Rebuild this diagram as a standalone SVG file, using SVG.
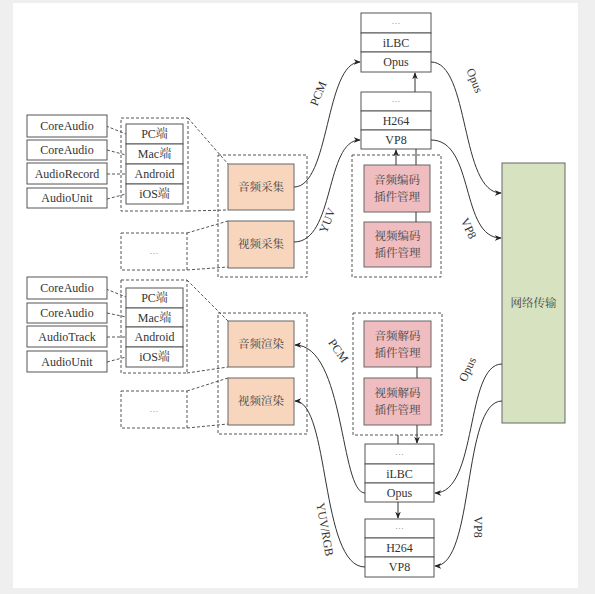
<svg xmlns="http://www.w3.org/2000/svg" width="595" height="594" viewBox="0 0 595 594">
<defs>
<marker id="ah" viewBox="0 0 10 10" refX="9" refY="5" markerWidth="7" markerHeight="7" markerUnits="userSpaceOnUse" orient="auto">
<path d="M0,1 L10,5 L0,9 L3,5 Z" fill="#222"/>
</marker>
<style>
.t{font-family:"Liberation Serif","Noto Serif CJK SC","Noto Sans CJK SC",serif;font-size:12px;fill:#333;text-anchor:middle}
.e{font-family:"Liberation Serif",serif;font-size:9px;fill:#777;text-anchor:middle}
.c{font-family:"Noto Serif CJK SC","Noto Sans CJK SC",serif;font-size:11.5px;fill:#444;text-anchor:middle}
.box{fill:#fff;stroke:#555;stroke-width:1}
.org{fill:#f8d6bd;stroke:#666;stroke-width:1}
.pink{fill:#efbcc0;stroke:#666;stroke-width:1}
.grn{fill:#d7e3c0;stroke:#666;stroke-width:1}
.dash{fill:none;stroke:#555;stroke-width:1;stroke-dasharray:3,2}
.ln{fill:none;stroke:#333;stroke-width:1}
.arr{fill:none;stroke:#333;stroke-width:1;marker-end:url(#ah)}
</style>
</defs>
<rect x="0" y="0" width="595" height="594" fill="#efefef"/>
<rect x="13" y="3" width="565" height="585" fill="#fff"/>

<!-- dashed groupings and dotted leader lines -->
<g id="groups">
<rect class="dash" x="121" y="118" width="67" height="93"/>
<rect class="dash" x="121" y="233" width="66" height="37"/>
<rect class="dash" x="218" y="155" width="89" height="122"/>
<rect class="dash" x="352" y="155" width="89" height="122"/>
<rect class="dash" x="121" y="280" width="66" height="93"/>
<rect class="dash" x="121" y="391" width="66" height="37"/>
<rect class="dash" x="218" y="313" width="89" height="121"/>
<rect class="dash" x="353" y="313" width="89" height="122"/>
<path class="dash" d="M106,126 L126,134 M107,150 L126,155 M107,174 L126,174 M107,199 L126,194"/>
<path class="dash" d="M106,289 L126,297 M107,313 L126,317 M107,337 L126,337 M107,362 L126,357"/>
<path class="dash" d="M188,118 L228,164 M188,211 L228,210 M187,233 L228,221 M187,270 L228,267"/>
<path class="dash" d="M187,280 L228,321 M187,373 L228,367 M187,391 L228,378 M187,428 L228,424"/>
<text class="e" x="154" y="254">…</text>
<text class="e" x="154" y="412">…</text>
</g>

<!-- capture devices -->
<g id="cap-devices">
<rect class="box" x="27" y="115" width="80" height="22"/><text class="t" x="67" y="130">CoreAudio</text>
<rect class="box" x="27" y="140" width="80" height="20"/><text class="t" x="67" y="154">CoreAudio</text>
<rect class="box" x="27" y="163" width="80" height="21"/><text class="t" x="67" y="178">AudioRecord</text>
<rect class="box" x="27" y="188" width="80" height="20"/><text class="t" x="67" y="202">AudioUnit</text>
</g>
<g id="cap-platforms">
<rect class="box" x="126" y="124" width="57" height="20"/><text class="t" x="154.5" y="138">PC端</text>
<rect class="box" x="126" y="144" width="57" height="20"/><text class="t" x="154.5" y="158">Mac端</text>
<rect class="box" x="126" y="164" width="57" height="20"/><text class="t" x="154.5" y="178">Android</text>
<rect class="box" x="126" y="184" width="57" height="20"/><text class="t" x="154.5" y="198">iOS端</text>
</g>

<!-- render devices -->
<g id="ren-devices">
<rect class="box" x="27" y="277" width="80" height="22"/><text class="t" x="67" y="292">CoreAudio</text>
<rect class="box" x="27" y="303" width="80" height="20"/><text class="t" x="67" y="317">CoreAudio</text>
<rect class="box" x="27" y="326" width="80" height="21"/><text class="t" x="67" y="341">AudioTrack</text>
<rect class="box" x="27" y="351" width="80" height="21"/><text class="t" x="67" y="366">AudioUnit</text>
</g>
<g id="ren-platforms">
<rect class="box" x="126" y="288" width="57" height="20"/><text class="t" x="154.5" y="302">PC端</text>
<rect class="box" x="126" y="308" width="57" height="19"/><text class="t" x="154.5" y="322">Mac端</text>
<rect class="box" x="126" y="327" width="57" height="20"/><text class="t" x="154.5" y="341">Android</text>
<rect class="box" x="126" y="347" width="57" height="20"/><text class="t" x="154.5" y="361">iOS端</text>
</g>

<g id="audio-capture"><rect class="org" x="228" y="164" width="66" height="46"/><text class="c" x="261" y="191">音频采集</text></g>
<g id="video-capture"><rect class="org" x="228" y="221" width="66" height="47"/><text class="c" x="261" y="248">视频采集</text></g>
<g id="audio-render"><rect class="org" x="228" y="321" width="66" height="46"/><text class="c" x="261" y="348">音频渲染</text></g>
<g id="video-render"><rect class="org" x="228" y="378" width="66" height="47"/><text class="c" x="261" y="405">视频渲染</text></g>

<g id="audio-enc-plugin"><rect class="pink" x="364" y="165" width="66" height="47"/><text class="c" x="397" y="184">音频编码</text><text class="c" x="397" y="201">插件管理</text></g>
<g id="video-enc-plugin"><rect class="pink" x="364" y="222" width="67" height="45"/><text class="c" x="397.5" y="240">视频编码</text><text class="c" x="397.5" y="257">插件管理</text></g>
<g id="audio-dec-plugin"><rect class="pink" x="364" y="321" width="67" height="46"/><text class="c" x="397.5" y="340">音频解码</text><text class="c" x="397.5" y="357">插件管理</text></g>
<g id="video-dec-plugin"><rect class="pink" x="364" y="378" width="67" height="47"/><text class="c" x="397.5" y="397">视频解码</text><text class="c" x="397.5" y="414">插件管理</text></g>

<g id="audio-enc-stack">
<rect class="box" x="361" y="13" width="70" height="20"/><text class="e" x="396" y="24">…</text>
<rect class="box" x="361" y="33" width="70" height="19"/><text class="t" x="396" y="47">iLBC</text>
<rect class="box" x="361" y="52" width="70" height="20"/><text class="t" x="396" y="66">Opus</text>
</g>
<g id="video-enc-stack">
<rect class="box" x="361" y="92" width="70" height="19"/><text class="e" x="396" y="102">…</text>
<rect class="box" x="361" y="111" width="70" height="19"/><text class="t" x="396" y="125">H264</text>
<rect class="box" x="361" y="130" width="70" height="19"/><text class="t" x="396" y="144">VP8</text>
</g>
<g id="audio-dec-stack">
<rect class="box" x="365" y="444" width="69" height="20"/><text class="e" x="399.5" y="455">…</text>
<rect class="box" x="365" y="464" width="69" height="19"/><text class="t" x="399.5" y="478">iLBC</text>
<rect class="box" x="365" y="483" width="69" height="19"/><text class="t" x="399.5" y="497">Opus</text>
</g>
<g id="video-dec-stack">
<rect class="box" x="365" y="519" width="69" height="19"/><text class="e" x="399.5" y="529">…</text>
<rect class="box" x="365" y="538" width="69" height="19"/><text class="t" x="399.5" y="552">H264</text>
<rect class="box" x="365" y="557" width="69" height="20"/><text class="t" x="399.5" y="571">VP8</text>
</g>

<g id="network"><rect class="grn" x="502" y="163" width="63" height="260"/><text class="c" x="533.5" y="307">网络传输</text></g>

<g id="connectors">
<path class="arr" d="M415,92 L415,73"/>
<path class="arr" d="M396,165 L396,150"/>
<path class="ln" d="M416,165 L416,149 M416,212 L416,222 M417,367 L417,378 M398,435 L398,444"/>
<path class="arr" d="M417,425 L417,443"/>
<path class="arr" d="M398,502 L398,518"/>
<path class="arr" d="M294,187 C330,187 325,62 360,62"/>
<path class="arr" d="M294,242 C335,242 325,140 360,140"/>
<path class="arr" d="M431,62 C470,62 460,193 501,193"/>
<path class="arr" d="M431,140 C475,140 460,238 501,238"/>
<path class="arr" d="M502,364 C465,364 478,493 435,493"/>
<path class="arr" d="M502,401 C462,401 475,566 435,566"/>
<path class="arr" d="M365,493 C340,493 345,345 295,345"/>
<path class="arr" d="M365,567 C320,567 330,401 295,401"/>
<text class="t" transform="translate(322,95) rotate(-68)">PCM</text>
<text class="t" transform="translate(331,222) rotate(-68)">YUV</text>
<text class="t" transform="translate(471,82) rotate(68)">Opus</text>
<text class="t" transform="translate(465,230) rotate(65)">VP8</text>
<text class="t" transform="translate(335,353) rotate(55)">PCM</text>
<text class="t" transform="translate(471,371) rotate(-65)">Opus</text>
<text class="t" transform="translate(321,530) rotate(80)">YUV/RGB</text>
<text class="t" transform="translate(474,527) rotate(90)">VP8</text>
</g>
</svg>
